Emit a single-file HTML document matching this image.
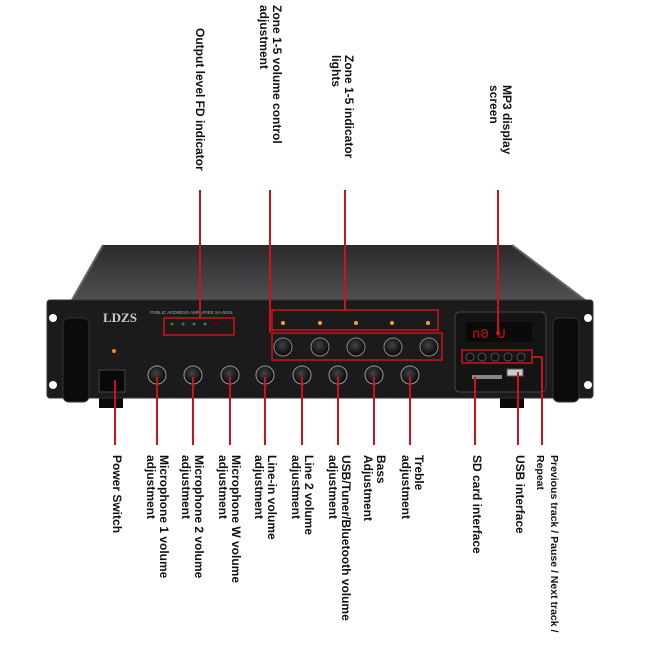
<!DOCTYPE html>
<html><head><meta charset="utf-8"><style>
body{margin:0;background:#fff;width:650px;height:650px;overflow:hidden;position:relative;font-family:"Liberation Sans",sans-serif}
.t{position:absolute;writing-mode:vertical-rl;font-weight:bold;font-size:12px;line-height:13px;color:#111;white-space:nowrap}
svg{position:absolute;left:0;top:0}
</style></head><body>
<svg width="650" height="650" viewBox="0 0 650 650">
<defs>
<linearGradient id="top" x1="0" y1="0" x2="0" y2="1"><stop offset="0" stop-color="#2a2a2c"/><stop offset="1" stop-color="#505052"/></linearGradient>
<radialGradient id="kn" cx="0.45" cy="0.4" r="0.6"><stop offset="0" stop-color="#444"/><stop offset="1" stop-color="#050505"/></radialGradient>
</defs>
<polygon points="103,245 512,245 585,300 72,300" fill="url(#top)"/>
<line x1="103" y1="245" x2="72" y2="300" stroke="#666" stroke-width="2"/>
<line x1="512" y1="245" x2="585" y2="300" stroke="#666" stroke-width="2"/>
<rect x="99" y="396" width="24" height="12" fill="#0a0a0a"/>
<rect x="500" y="396" width="24" height="12" fill="#0a0a0a"/>
<rect x="47" y="300" width="546" height="98" rx="3" fill="#1b1b1c"/>
<rect x="47" y="300" width="546" height="98" rx="3" fill="none" stroke="#333"/>
<circle cx="53" cy="318" r="4" fill="#fff"/><circle cx="53" cy="385" r="4" fill="#fff"/>
<circle cx="588" cy="318" r="4" fill="#fff"/><circle cx="588" cy="385" r="4" fill="#fff"/>
<rect x="63" y="318" width="26" height="84" rx="6" fill="#0b0b0b" stroke="#333"/>
<rect x="553" y="318" width="26" height="84" rx="6" fill="#0b0b0b" stroke="#333"/>
<text x="103" y="322" font-family="Liberation Serif" font-weight="bold" font-size="13" fill="#ccc">LDZS</text>
<text x="150" y="314" font-size="4.5" fill="#aaa">PUBLIC ADDRESS AMPLIFIER  SA-5015</text>
<rect x="164" y="318" width="70" height="17" fill="none" stroke="#c8151b" stroke-width="1.5"/>
<g fill="#3a7a3a"><circle cx="172" cy="324" r="1.5"/><circle cx="183" cy="324" r="1.5"/><circle cx="194" cy="324" r="1.5"/><circle cx="205" cy="324" r="1.5"/></g>
<circle cx="216" cy="324" r="1.8" fill="#700"/>
<circle cx="114" cy="351" r="2" fill="#f80"/>
<rect x="99" y="370" width="26" height="22" fill="#0a0a0a" stroke="#444"/>
<rect x="272" y="310" width="166" height="20" fill="none" stroke="#c8151b" stroke-width="1.5"/>
<g fill="#ff9a30"><circle cx="283" cy="323" r="2"/><circle cx="320" cy="323" r="2"/><circle cx="356" cy="323" r="2"/><circle cx="392" cy="323" r="2"/><circle cx="428" cy="323" r="2"/></g>
<rect x="272" y="333" width="170" height="27" fill="none" stroke="#c8151b" stroke-width="1.5"/>
<g fill="url(#kn)" stroke="#888" stroke-width="1"><circle cx="283" cy="347" r="9"/><circle cx="320" cy="347" r="9"/><circle cx="356" cy="347" r="9"/><circle cx="393" cy="347" r="9"/><circle cx="429" cy="347" r="9"/></g>
<g fill="url(#kn)" stroke="#999" stroke-width="1"><circle cx="157" cy="375" r="9"/><circle cx="193" cy="375" r="9"/><circle cx="230" cy="375" r="9"/><circle cx="265" cy="375" r="9"/><circle cx="302" cy="375" r="9"/><circle cx="338" cy="375" r="9"/><circle cx="374" cy="375" r="9"/><circle cx="410" cy="375" r="9"/></g>
<rect x="455" y="312" width="91" height="80" rx="5" fill="#141414" stroke="#444"/>
<rect x="466" y="322" width="66" height="20" fill="#0a0a0a"/>
<text x="472" y="338" font-size="14" fill="#c01818" font-family="Liberation Mono">n0 U</text>
<rect x="462" y="350" width="70" height="13" fill="none" stroke="#c8151b" stroke-width="1.5"/>
<g fill="#111" stroke="#666" stroke-width="0.7"><circle cx="470" cy="357" r="4"/><circle cx="482" cy="357" r="4"/><circle cx="495" cy="357" r="4"/><circle cx="508" cy="357" r="4"/><circle cx="521" cy="357" r="4"/></g>
<rect x="472" y="375" width="30" height="4" fill="#888"/>
<rect x="507" y="369" width="16" height="7" fill="#ccc" stroke="#555"/>
<g stroke="#c8151b" stroke-width="2">
<line x1="200" y1="190" x2="200" y2="318"/>
<line x1="270" y1="190" x2="270" y2="333"/>
<line x1="345" y1="190" x2="345" y2="310"/>
<line x1="498" y1="190" x2="498" y2="333"/>
</g>
<circle cx="498" cy="333" r="2" fill="#c8151b"/>
<g stroke="#c8151b" stroke-width="2">
<line x1="115" y1="380" x2="115" y2="445"/>
<line x1="157" y1="377" x2="157" y2="445"/>
<line x1="193" y1="377" x2="193" y2="445"/>
<line x1="230" y1="377" x2="230" y2="445"/>
<line x1="265" y1="377" x2="265" y2="445"/>
<line x1="302" y1="377" x2="302" y2="445"/>
<line x1="338" y1="377" x2="338" y2="445"/>
<line x1="374" y1="377" x2="374" y2="445"/>
<line x1="410" y1="377" x2="410" y2="445"/>
<line x1="475" y1="377" x2="475" y2="445"/>
<line x1="518" y1="372" x2="518" y2="445"/>
<line x1="532" y1="357" x2="542" y2="357"/>
<line x1="542" y1="357" x2="542" y2="445"/>
</g>
</svg>
<div class="t" style="left:193px;top:28px">Output level FD indicator</div>
<div class="t" style="left:257px;top:5px">Zone 1-5 volume control<br>adjustment</div>
<div class="t" style="left:329px;top:55px">Zone 1-5 indicator<br>lights</div>
<div class="t" style="left:487px;top:85px">MP3 display<br>screen</div>

<div class="t" style="left:110px;top:455px">Power Switch</div>
<div class="t" style="left:144px;top:455px">Microphone 1 volume<br>adjustment</div>
<div class="t" style="left:179px;top:455px">Microphone 2 volume<br>adjustment</div>
<div class="t" style="left:216px;top:455px">Microphone W volume<br>adjustment</div>
<div class="t" style="left:252px;top:455px">Line-in volume<br>adjustment</div>
<div class="t" style="left:289px;top:455px">Line 2 volume<br>adjustment</div>
<div class="t" style="left:326px;top:455px">USB/Tuner/Bluetooth volume<br>adjustment</div>
<div class="t" style="left:361px;top:455px">Bass<br>Adjustment</div>
<div class="t" style="left:399px;top:455px">Treble<br>adjustment</div>
<div class="t" style="left:470px;top:455px">SD card interface</div>
<div class="t" style="left:513px;top:455px">USB interface</div>
<div class="t" style="left:533px;top:455px;font-size:10.5px;line-height:14px">Previous track / Pause / Next track /<br>Repeat</div>
</body></html>
